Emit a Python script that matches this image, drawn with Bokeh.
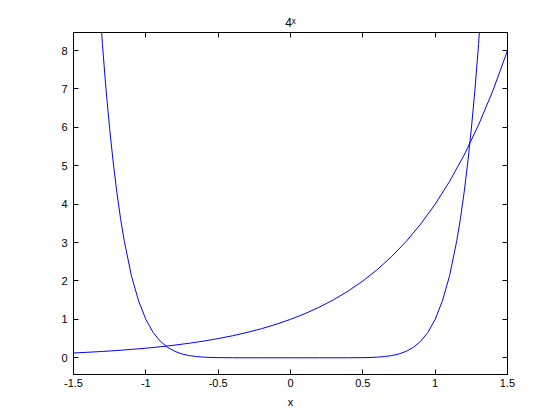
from bokeh.plotting import figure
from bokeh.models import LinearAxis, FixedTicker, Range1d
from bokeh.embed import file_html
from bokeh.resources import INLINE

# 4^x
x_exp = [-1.5, -1.4, -1.3, -1.2, -1.1, -1.0, -0.9, -0.8, -0.7, -0.6, -0.5,
         -0.4, -0.3, -0.2, -0.1, 0.0, 0.1, 0.2, 0.3, 0.4, 0.5,
         0.6, 0.7, 0.8, 0.9, 1.0, 1.1, 1.2, 1.3, 1.4, 1.5]
y_exp = [0.125, 0.144, 0.165, 0.190, 0.218, 0.250, 0.287, 0.330, 0.379, 0.435, 0.500,
         0.574, 0.660, 0.758, 0.871, 1.000, 1.149, 1.320, 1.516, 1.741, 2.000,
         2.297, 2.639, 3.031, 3.482, 4.000, 4.595, 5.278, 6.063, 6.964, 8.000]

# U-shaped curve
x_u = [-1.35, -1.3, -1.275, -1.25, -1.225, -1.2, -1.175, -1.15, -1.1, -1.05, -1.0,
       -0.95, -0.9, -0.85, -0.8, -0.75, -0.7, -0.65, -0.6, -0.55, -0.5, -0.4, -0.3,
       -0.2, -0.1, 0.0, 0.1, 0.2, 0.3, 0.4, 0.5, 0.55, 0.6, 0.65, 0.7, 0.75, 0.8,
       0.85, 0.9, 0.95, 1.0, 1.05, 1.1, 1.15, 1.175, 1.2, 1.225, 1.25, 1.275, 1.3, 1.35]
y_u = [11.03, 8.16, 6.98, 5.96, 5.07, 4.30, 3.63, 3.06, 2.14, 1.48, 1.00,
       0.663, 0.431, 0.273, 0.168, 0.100, 0.058, 0.032, 0.017, 0.008, 0.004, 0.001, 0.000,
       0.0, 0.0, 0.0, 0.0, 0.0, 0.000, 0.001, 0.004, 0.008, 0.017, 0.032, 0.058, 0.100, 0.168,
       0.273, 0.431, 0.663, 1.00, 1.48, 2.14, 3.06, 3.63, 4.30, 5.07, 5.96, 6.98, 8.16, 11.03]

x_ticks = [-1.5, -1.0, -0.5, 0.0, 0.5, 1.0, 1.5]
x_tick_labels = ["-1.5", "-1", "-0.5", "0", "0.5", "1", "1.5"]
y_ticks = [0, 1, 2, 3, 4, 5, 6, 7, 8]

FONT = "Liberation Sans"
FS = "11px"

p = figure(width=552, height=412, output_backend="svg", toolbar_location=None,
           x_range=Range1d(-1.5, 1.5), y_range=Range1d(-0.435, 8.47),
           min_border_left=73, min_border_right=45, min_border_top=32, min_border_bottom=38,
           title="4ˣ")
p.title.align = "center"
p.title.text_font = FONT
p.title.text_font_size = "12px"
p.title.text_font_style = "normal"
p.title.text_color = "black"
p.title.standoff = 6

p.line(x_exp, y_exp, line_color="#0000ff", line_width=1)
p.line(x_u, y_u, line_color="#0000ff", line_width=1)

p.xgrid.visible = False
p.ygrid.visible = False
p.outline_line_color = "black"
p.outline_line_width = 1
p.outline_line_alpha = 1

def style(ax):
    ax.major_tick_in = 5
    ax.major_tick_out = 0
    ax.minor_tick_in = 0
    ax.minor_tick_out = 0
    ax.axis_line_color = "black"
    ax.major_tick_line_color = "black"
    ax.major_label_text_font = FONT
    ax.major_label_text_font_size = FS
    ax.major_label_text_color = "black"
    ax.major_label_standoff = 4

xa = p.xaxis[0]
xa.ticker = FixedTicker(ticks=x_ticks)
xa.major_label_overrides = {t: l for t, l in zip(x_ticks, x_tick_labels)}
xa.axis_label = "x"
xa.axis_label_text_font = FONT
xa.axis_label_text_font_size = FS
xa.axis_label_text_font_style = "normal"
xa.axis_label_text_color = "black"
xa.axis_label_standoff = 6
style(xa)

ya = p.yaxis[0]
ya.ticker = FixedTicker(ticks=y_ticks)
style(ya)
ya.major_label_standoff = 6

top = LinearAxis(ticker=FixedTicker(ticks=x_ticks))
style(top)
top.major_label_overrides = {t: "" for t in x_ticks}
top.major_label_standoff = 0
p.add_layout(top, "above")

right = LinearAxis(ticker=FixedTicker(ticks=y_ticks))
style(right)
right.major_label_overrides = {t: "" for t in y_ticks}
right.major_label_standoff = 0
p.add_layout(right, "right")

open("out.html", "w").write(file_html(p, INLINE))
